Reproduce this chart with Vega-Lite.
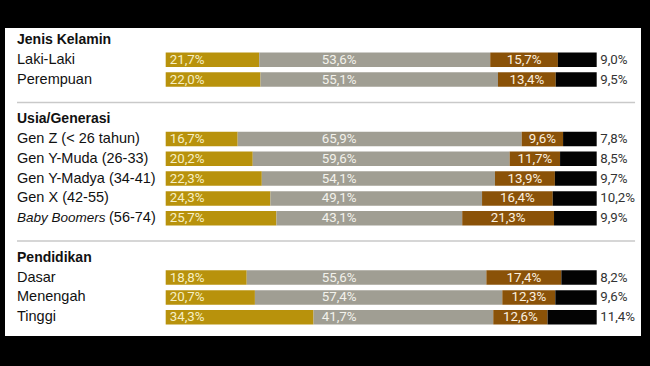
{
  "$schema": "https://vega.github.io/schema/vega-lite/v6.json",
  "width": 636,
  "height": 308,
  "autosize": {"type": "none"},
  "padding": {"left": 5, "top": 28, "right": 9, "bottom": 30},
  "background": "#000000",
  "config": {
    "view": {"stroke": null, "fill": "#ffffff"},
    "locale": {"number": {"decimal": ",", "thousands": ".", "grouping": [3], "currency": ["", "%"]}},
    "text": {"font": "Roboto, sans-serif", "fontSize": 13.3, "baseline": "middle"}
  },
  "datasets": {
    "bars": [
      {"row": "Laki-Laki", "seg": 1, "v": 21.7}, {"row": "Laki-Laki", "seg": 2, "v": 53.6}, {"row": "Laki-Laki", "seg": 3, "v": 15.7}, {"row": "Laki-Laki", "seg": 4, "v": 9.0},
      {"row": "Perempuan", "seg": 1, "v": 22.0}, {"row": "Perempuan", "seg": 2, "v": 55.1}, {"row": "Perempuan", "seg": 3, "v": 13.4}, {"row": "Perempuan", "seg": 4, "v": 9.5},
      {"row": "Gen Z (< 26 tahun)", "seg": 1, "v": 16.7}, {"row": "Gen Z (< 26 tahun)", "seg": 2, "v": 65.9}, {"row": "Gen Z (< 26 tahun)", "seg": 3, "v": 9.6}, {"row": "Gen Z (< 26 tahun)", "seg": 4, "v": 7.8},
      {"row": "Gen Y-Muda (26-33)", "seg": 1, "v": 20.2}, {"row": "Gen Y-Muda (26-33)", "seg": 2, "v": 59.6}, {"row": "Gen Y-Muda (26-33)", "seg": 3, "v": 11.7}, {"row": "Gen Y-Muda (26-33)", "seg": 4, "v": 8.5},
      {"row": "Gen Y-Madya (34-41)", "seg": 1, "v": 22.3}, {"row": "Gen Y-Madya (34-41)", "seg": 2, "v": 54.1}, {"row": "Gen Y-Madya (34-41)", "seg": 3, "v": 13.9}, {"row": "Gen Y-Madya (34-41)", "seg": 4, "v": 9.7},
      {"row": "Gen X (42-55)", "seg": 1, "v": 24.3}, {"row": "Gen X (42-55)", "seg": 2, "v": 49.1}, {"row": "Gen X (42-55)", "seg": 3, "v": 16.4}, {"row": "Gen X (42-55)", "seg": 4, "v": 10.2},
      {"row": "Baby Boomers (56-74)", "seg": 1, "v": 25.7}, {"row": "Baby Boomers (56-74)", "seg": 2, "v": 43.1}, {"row": "Baby Boomers (56-74)", "seg": 3, "v": 21.3}, {"row": "Baby Boomers (56-74)", "seg": 4, "v": 9.9},
      {"row": "Dasar", "seg": 1, "v": 18.8}, {"row": "Dasar", "seg": 2, "v": 55.6}, {"row": "Dasar", "seg": 3, "v": 17.4}, {"row": "Dasar", "seg": 4, "v": 8.2},
      {"row": "Menengah", "seg": 1, "v": 20.7}, {"row": "Menengah", "seg": 2, "v": 57.4}, {"row": "Menengah", "seg": 3, "v": 12.3}, {"row": "Menengah", "seg": 4, "v": 9.6},
      {"row": "Tinggi", "seg": 1, "v": 34.3}, {"row": "Tinggi", "seg": 2, "v": 41.7}, {"row": "Tinggi", "seg": 3, "v": 12.6}, {"row": "Tinggi", "seg": 4, "v": 11.4}
    ],
    "labels": [
      {"row": "Jenis Kelamin", "text": "Jenis Kelamin", "kind": "header"},
      {"row": "Laki-Laki", "text": "Laki-Laki", "kind": "item"},
      {"row": "Perempuan", "text": "Perempuan", "kind": "item"},
      {"row": "Usia/Generasi", "text": "Usia/Generasi", "kind": "header"},
      {"row": "Gen Z (< 26 tahun)", "text": "Gen Z (< 26 tahun)", "kind": "item"},
      {"row": "Gen Y-Muda (26-33)", "text": "Gen Y-Muda (26-33)", "kind": "item"},
      {"row": "Gen Y-Madya (34-41)", "text": "Gen Y-Madya (34-41)", "kind": "item"},
      {"row": "Gen X (42-55)", "text": "Gen X (42-55)", "kind": "item"},
      {"row": "Baby Boomers (56-74)", "text": "Baby Boomers", "kind": "italic"},
      {"row": "Baby Boomers (56-74)", "text": "(56-74)", "kind": "suffix"},
      {"row": "Pendidikan", "text": "Pendidikan", "kind": "header"},
      {"row": "Dasar", "text": "Dasar", "kind": "item"},
      {"row": "Menengah", "text": "Menengah", "kind": "item"},
      {"row": "Tinggi", "text": "Tinggi", "kind": "item"}
    ],
    "seps": [{"row": "sep1"}, {"row": "sep2"}]
  },
  "encoding": {
    "y": {
      "field": "row", "type": "nominal", "axis": null,
      "scale": {
        "type": "band",
        "domain": ["Jenis Kelamin", "Laki-Laki", "Perempuan", "sep1", "Usia/Generasi", "Gen Z (< 26 tahun)", "Gen Y-Muda (26-33)", "Gen Y-Madya (34-41)", "Gen X (42-55)", "Baby Boomers (56-74)", "sep2", "Pendidikan", "Dasar", "Menengah", "Tinggi"],
        "range": [2.1, 299.1],
        "paddingInner": 0.27,
        "paddingOuter": 0.135
      }
    }
  },
  "layer": [
    {
      "data": {"name": "seps"},
      "mark": {"type": "rule", "color": "#c9c9c9", "strokeWidth": 1.5, "yOffset": 3},
      "encoding": {
        "x": {"datum": -34.5, "type": "quantitative", "scale": {"domain": [-37.285, 110.28], "nice": false, "zero": false}, "axis": null},
        "x2": {"datum": 108.9}
      }
    },
    {
      "data": {"name": "bars"},
      "mark": {"type": "bar"},
      "encoding": {
        "x": {"field": "v", "type": "quantitative", "stack": "zero", "scale": {"domain": [-37.285, 110.28], "nice": false, "zero": false}, "axis": null},
        "color": {"field": "seg", "type": "nominal", "legend": null, "scale": {"domain": [1, 2, 3, 4], "range": ["#b8920c", "#a09e93", "#8a5208", "#030303"]}},
        "order": {"field": "seg"}
      }
    },
    {
      "data": {"name": "bars"},
      "transform": [{"filter": "datum.seg == 1"}],
      "mark": {"type": "text", "align": "left", "dx": 4, "color": "#f6efc4"},
      "encoding": {
        "x": {"datum": 0, "type": "quantitative", "scale": {"domain": [-37.285, 110.28], "nice": false, "zero": false}, "axis": null},
        "text": {"field": "v", "type": "quantitative", "format": "$.1f"}
      }
    },
    {
      "data": {"name": "bars"},
      "transform": [{"filter": "datum.seg == 2"}],
      "mark": {"type": "text", "align": "left", "color": "#f3f2ec"},
      "encoding": {
        "x": {"datum": 36.2, "type": "quantitative", "scale": {"domain": [-37.285, 110.28], "nice": false, "zero": false}, "axis": null},
        "text": {"field": "v", "type": "quantitative", "format": "$.1f"}
      }
    },
    {
      "data": {"name": "bars"},
      "mark": {"type": "text", "align": "center", "color": "#fbf1e0"},
      "encoding": {
        "x": {"field": "v", "type": "quantitative", "stack": "zero", "bandPosition": 0.5, "scale": {"domain": [-37.285, 110.28], "nice": false, "zero": false}, "axis": null},
        "detail": {"field": "seg", "type": "nominal"},
        "order": {"field": "seg"},
        "opacity": {"condition": {"test": "datum.seg == 3", "value": 1}, "value": 0},
        "text": {"field": "v", "type": "quantitative", "format": "$.1f"}
      }
    },
    {
      "data": {"name": "bars"},
      "transform": [{"filter": "datum.seg == 4"}],
      "mark": {"type": "text", "align": "left", "dx": 3.5, "color": "#333333"},
      "encoding": {
        "x": {"datum": 100, "type": "quantitative", "scale": {"domain": [-37.285, 110.28], "nice": false, "zero": false}, "axis": null},
        "text": {"field": "v", "type": "quantitative", "format": "$.1f"}
      }
    },
    {
      "data": {"name": "labels"},
      "transform": [{"filter": "datum.kind == 'header'"}],
      "mark": {"type": "text", "align": "left", "font": "Liberation Sans, sans-serif", "fontWeight": "bold", "fontSize": 14, "color": "#111111"},
      "encoding": {
        "x": {"datum": -34.5, "type": "quantitative", "scale": {"domain": [-37.285, 110.28], "nice": false, "zero": false}, "axis": null},
        "text": {"field": "text"}
      }
    },
    {
      "data": {"name": "labels"},
      "transform": [{"filter": "datum.kind == 'item'"}],
      "mark": {"type": "text", "align": "left", "font": "Liberation Sans, sans-serif", "fontSize": 14.5, "color": "#111111"},
      "encoding": {
        "x": {"datum": -34.5, "type": "quantitative", "scale": {"domain": [-37.285, 110.28], "nice": false, "zero": false}, "axis": null},
        "text": {"field": "text"}
      }
    },
    {
      "data": {"name": "labels"},
      "transform": [{"filter": "datum.kind == 'italic'"}],
      "mark": {"type": "text", "align": "left", "font": "Liberation Sans, sans-serif", "fontStyle": "italic", "fontSize": 13.5, "color": "#111111"},
      "encoding": {
        "x": {"datum": -34.5, "type": "quantitative", "scale": {"domain": [-37.285, 110.28], "nice": false, "zero": false}, "axis": null},
        "text": {"field": "text"}
      }
    },
    {
      "data": {"name": "labels"},
      "transform": [{"filter": "datum.kind == 'suffix'"}],
      "mark": {"type": "text", "align": "left", "dx": 92, "font": "Liberation Sans, sans-serif", "fontSize": 14.5, "color": "#111111"},
      "encoding": {
        "x": {"datum": -34.5, "type": "quantitative", "scale": {"domain": [-37.285, 110.28], "nice": false, "zero": false}, "axis": null},
        "text": {"field": "text"}
      }
    }
  ]
}
